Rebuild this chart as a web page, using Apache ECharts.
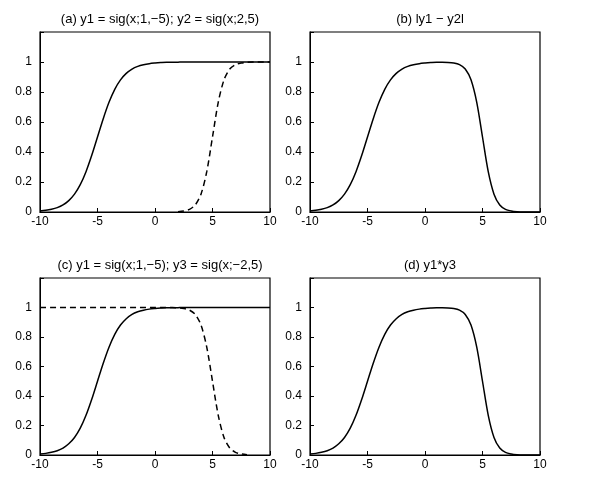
<!DOCTYPE html>
<html><head><meta charset="utf-8">
<script src="https://cdn.jsdelivr.net/npm/echarts@6/dist/echarts.min.js"></script>
<style>html,body{margin:0;padding:0;background:#fff}#c{width:606px;height:482px}</style>
</head><body><div id="c"></div>
<script>
const xs = [-10,-9.5,-9,-8.5,-8,-7.5,-7,-6.5,-6,-5.5,-5,-4.5,-4,-3.5,-3,-2.5,-2,-1.5,-1,-0.5,0,0.5,1,1.5,2,2.5,3,3.5,4,4.5,5,5.5,6,6.5,7,7.5,8,8.5,9,9.5,10];
const y1 = [0.007,0.011,0.018,0.029,0.047,0.076,0.119,0.182,0.269,0.378,0.5,0.622,0.731,0.818,0.881,0.924,0.953,0.971,0.982,0.989,0.993,0.996,0.998,0.998,0.999,1,1,1,1,1,1,1,1,1,1,1,1,1,1,1,1];
const y2 = [null,null,null,null,null,null,null,null,null,null,null,null,null,null,null,null,null,null,null,null,null,null,null,null,0.002,0.007,0.018,0.047,0.119,0.269,0.5,0.731,0.881,0.953,0.982,0.993,0.998,1,1,1,1];
const y3 = [1,1,1,1,1,1,1,1,1,1,1,1,1,1,1,1,1,1,1,1,1,1,1,1,0.998,0.993,0.982,0.953,0.881,0.731,0.5,0.269,0.119,0.047,0.018,0.007,0.002,null,null,null,null];
const diff = [0.007,0.011,0.018,0.029,0.047,0.076,0.119,0.182,0.269,0.378,0.5,0.622,0.731,0.818,0.881,0.924,0.953,0.971,0.982,0.989,0.993,0.996,0.998,0.998,0.997,0.993,0.982,0.953,0.881,0.731,0.5,0.269,0.119,0.047,0.018,0.007,0.002,0,0,0,0];
const prod = [0.007,0.011,0.018,0.029,0.047,0.076,0.119,0.182,0.269,0.378,0.5,0.622,0.731,0.818,0.881,0.924,0.953,0.971,0.982,0.989,0.993,0.996,0.998,0.998,0.997,0.993,0.982,0.953,0.881,0.731,0.5,0.269,0.119,0.047,0.018,0.007,0.002,0,0,0,0];
const titles = ['(a) y1 = sig(x;1,−5); y2 = sig(x;2,5)','(b) ly1 − y2l','(c) y1 = sig(x;1,−5); y3 = sig(x;−2,5)','(d) y1*y3'];

const pair = a => xs.map((x,i)=>[x,a[i]]);
const font = 'Liberation Sans';
const grids = [
  {left:40,top:32,width:230,height:180},
  {left:310,top:32,width:230,height:180},
  {left:40,top:278,width:230,height:177},
  {left:310,top:278,width:230,height:177}
].map(g=>Object.assign({show:true,borderColor:'#000',borderWidth:1.2,backgroundColor:'transparent'},g));
const xAxes = grids.map((g,i)=>({gridIndex:i,type:'value',min:-10,max:10,interval:5,
  axisLine:{show:true,onZero:false,lineStyle:{color:'#000'}},axisTick:{inside:true,length:4,lineStyle:{color:'#000'}},
  splitLine:{show:false},axisLabel:{color:'#000',fontFamily:font,fontSize:12,margin:4}}));
const yAxes = grids.map((g,i)=>({gridIndex:i,type:'value',min:0,max:1.2,interval:0.2,
  axisLine:{show:true,onZero:false,lineStyle:{color:'#000'}},axisTick:{inside:true,length:4,lineStyle:{color:'#000'}},
  splitLine:{show:false},axisLabel:{color:'#000',fontFamily:font,fontSize:12,margin:8,
  formatter:v=>v>1.05?'':String(+v.toFixed(1))}}));
const line = (i,data,dashed,marks)=>({type:'line',xAxisIndex:i,yAxisIndex:i,data:pair(data),
  showSymbol:false,smooth:0.3,connectNulls:false,
  lineStyle:{color:'#000',width:1.5,type:dashed?[6,4]:'solid'},
  markPoint:marks?{symbol:'circle',symbolSize:2,itemStyle:{opacity:0},
    label:{show:true,position:'inside',color:'#000',fontFamily:font,fontSize:13,formatter:p=>p.name},
    data:marks.map(m=>({name:m[0],coord:[m[1],m[2]]}))}:undefined});
const chart = echarts.init(document.getElementById('c'));
chart.setOption({
  animation:false,
  title:titles.map((t,i)=>({text:t,left:grids[i].left+grids[i].width/2,textAlign:'center',top:grids[i].top-24,
    textStyle:{fontFamily:font,fontSize:13,fontWeight:'normal',color:'#000'}})),
  grid:grids,xAxis:xAxes,yAxis:yAxes,
  series:[
    line(0,y1,false,[['y1',-6.3,0.85]]),
    line(0,y2,true,[['y2',4.2,0.56]]),
    line(1,diff,false),
    line(2,y1,false,[['y1',-5.3,0.72]]),
    line(2,y3,true,[['y3',6.2,0.57]]),
    line(3,prod,false)
  ]
});
</script></body></html>
